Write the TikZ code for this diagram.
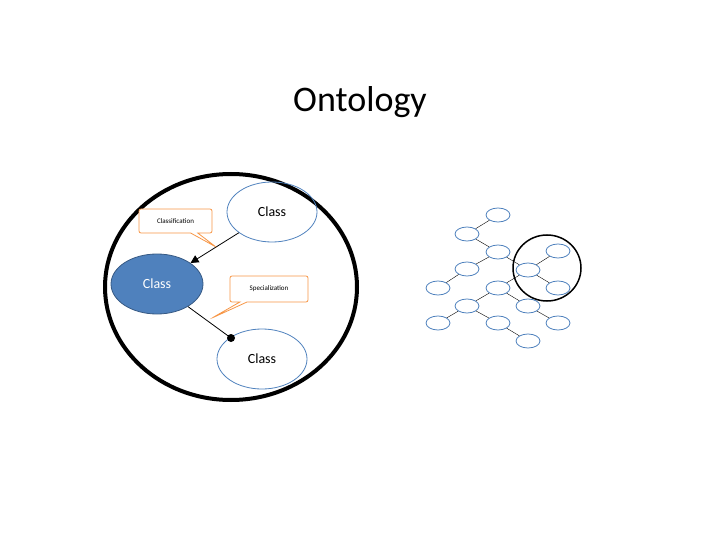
\documentclass[tikz,border=0pt]{standalone}
\usepackage{fontspec}
\setmainfont{Carlito}
\usetikzlibrary{shapes.geometric,shapes.callouts,arrows.meta}
\definecolor{nodeblue}{RGB}{79,129,189}
\definecolor{calloutorange}{RGB}{247,150,70}
\tikzstyle{classnode} = [draw=nodeblue, thick, ellipse, minimum width=90pt, minimum height=60pt, font=\fontsize{14}{14}\selectfont]
\tikzstyle{tinynode} = [draw=nodeblue, thick, ellipse, minimum width=24pt, minimum height=14pt, inner sep=0pt]
\tikzstyle{callout} = [draw=calloutorange, thick, rectangle callout, rounded corners=2pt, fill=white, font=\fontsize{7}{7}\selectfont]

\begin{document}
\begin{tikzpicture}[x=1pt,y=-1pt]
    \useasboundingbox (0,0) rectangle (720,540);
    \node[font=\fontsize{36}{36}\selectfont] (title) at (360,102) {Ontology};
%------------ left: class diagram ---------------------
    \draw[line width=4pt] (231,287) ellipse [x radius=126, y radius=113];
    \node[classnode] (upper) at (272,212) {Class};
    \node[classnode, fill=nodeblue, text=white, draw=nodeblue!70!black, minimum width=92pt] (main) at (157,284) {Class};
    \node[classnode] (lower) at (262,359) {Class};
    \coordinate (dot) at (231,338);
    \draw[thick, -{Triangle[length=8pt,width=8pt]}] (upper) -- (main);
    \draw[thick] (main) -- (dot);
    \fill (dot) circle (4pt);
    \node[callout, minimum width=73pt, minimum height=24pt, callout absolute pointer={(216,247)}] (classif) at (175.5,221) {Classification};
    \node[callout, minimum width=78pt, minimum height=26pt, callout absolute pointer={(212,318)}] (special) at (269,289) {Specialization};
%------------ right: small tree ---------------------
    \foreach \name/\x/\y in {n1/498/215, n2/467/234, n3/498/252, n4/467/269, n5/438/288,
        n6/528/270, n7/558/251, n8/558/288, n9/498/288, n10/467/306, n11/528/306,
        n12/438/323, n13/498/323, n14/558/323, n15/528/341}
        \node[tinynode] (\name) at (\x,\y) {};
    \foreach \a/\b in {n1/n2, n2/n3, n3/n4, n4/n5, n3/n6, n6/n7, n6/n8, n6/n9,
        n9/n10, n9/n11, n10/n12, n10/n13, n13/n15, n11/n14}
        \draw (\a) -- (\b);
    \draw[line width=1.5pt] (547,268) ellipse [x radius=34, y radius=33];
\end{tikzpicture}
\end{document}
